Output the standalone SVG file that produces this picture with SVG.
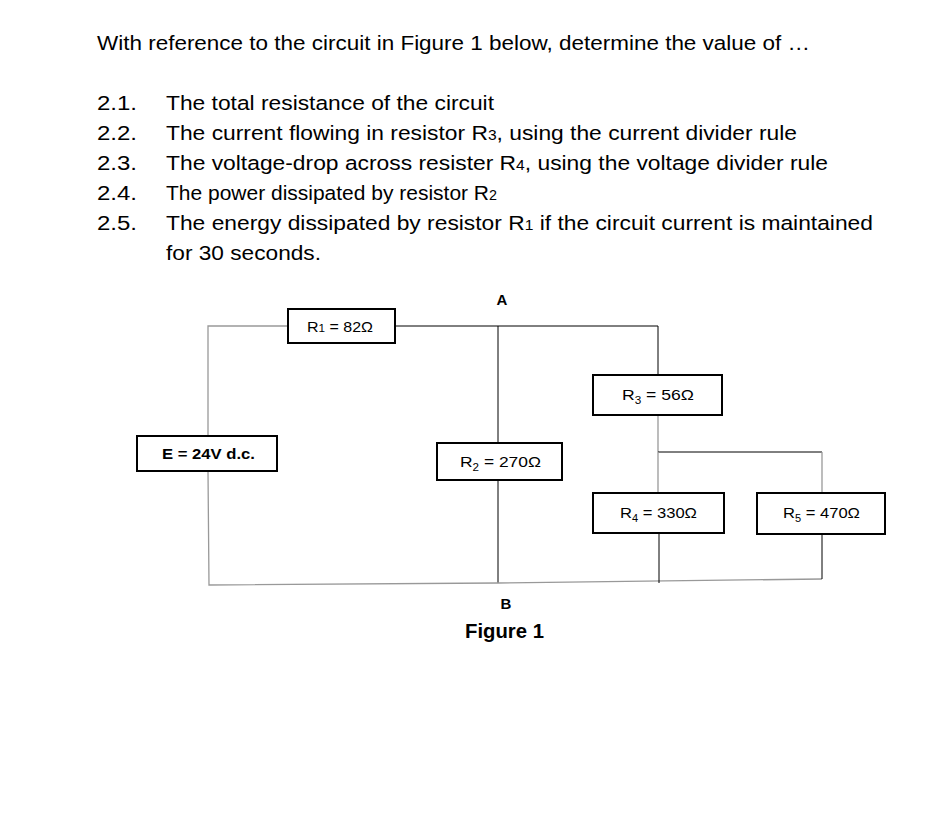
<svg xmlns="http://www.w3.org/2000/svg" width="935" height="820" viewBox="0 0 935 820">
<style>
text{font-family:"Liberation Sans",Arial,sans-serif;fill:#000}
.q{font-size:20.5px}
.l{font-size:15px}
.b{font-weight:bold}
.box{fill:#fff;stroke:#000;stroke-width:2}
.w{fill:none;stroke:#000;stroke-width:1}
.g{fill:none;stroke:#999;stroke-width:1.3}
</style>
<rect width="935" height="820" fill="#fff"/>
<text class="q" x="97" y="50" textLength="713" lengthAdjust="spacingAndGlyphs">With reference to the circuit in Figure 1 below, determine the value of …</text>
<text class="q" x="97" y="110" textLength="40" lengthAdjust="spacingAndGlyphs">2.1.</text><text class="q" x="166" y="110" textLength="328" lengthAdjust="spacingAndGlyphs">The total resistance of the circuit</text>
<text class="q" x="97" y="140" textLength="40" lengthAdjust="spacingAndGlyphs">2.2.</text><text class="q" x="166" y="140" textLength="631" lengthAdjust="spacingAndGlyphs">The current flowing in resistor R<tspan font-size="14">3</tspan>, using the current divider rule</text>
<text class="q" x="97" y="170" textLength="40" lengthAdjust="spacingAndGlyphs">2.3.</text><text class="q" x="166" y="170" textLength="662" lengthAdjust="spacingAndGlyphs">The voltage-drop across resister R<tspan font-size="14">4</tspan>, using the voltage divider rule</text>
<text class="q" x="97" y="200" textLength="40" lengthAdjust="spacingAndGlyphs">2.4.</text><text class="q" x="166" y="200" textLength="331" lengthAdjust="spacingAndGlyphs">The power dissipated by resistor R<tspan font-size="14">2</tspan></text>
<text class="q" x="97" y="230" textLength="40" lengthAdjust="spacingAndGlyphs">2.5.</text><text class="q" x="166" y="230" textLength="707" lengthAdjust="spacingAndGlyphs">The energy dissipated by resistor R<tspan font-size="14">1</tspan> if the circuit current is maintained</text>
<text class="q" x="166" y="260" textLength="155" lengthAdjust="spacingAndGlyphs">for 30 seconds.</text>
<g id="connectors">
<polyline class="g" points="288,326 208,326 208,436"/>
<polyline class="w" points="395,326 658,326 658,375"/>
<line class="w" x1="498" y1="326" x2="498" y2="443"/>
<line class="w" x1="498" y1="480" x2="498" y2="583"/>
<polyline class="g" points="208,471 209,585 498,583 822,579"/>
<line class="g" x1="658" y1="415" x2="658" y2="452"/>
<line class="w" x1="658" y1="452" x2="822" y2="452"/>
<line class="g" x1="658" y1="452" x2="658" y2="493"/>
<line class="g" x1="822" y1="452" x2="822" y2="493"/>
<line class="w" x1="659" y1="533" x2="659" y2="583"/>
<line class="w" x1="822" y1="534" x2="822" y2="579"/>
</g>
<g id="R1"><rect class="box" x="288" y="309" width="107" height="34"/><text class="l" x="307" y="332" textLength="66" lengthAdjust="spacingAndGlyphs">R<tspan font-size="11">1</tspan> = 82Ω</text></g>
<g id="E"><rect class="box" x="137" y="436" width="140" height="35"/><text class="l b" x="162" y="459" textLength="93" lengthAdjust="spacingAndGlyphs">E = 24V d.c.</text></g>
<g id="R2"><rect class="box" x="437" y="443" width="125" height="37"/><text class="l" x="460" y="467" textLength="81" lengthAdjust="spacingAndGlyphs">R<tspan font-size="10" dy="4">2</tspan><tspan dy="-4"> = 270Ω</tspan></text></g>
<g id="R3"><rect class="box" x="593" y="375" width="129" height="40"/><text class="l" x="622" y="400" textLength="72" lengthAdjust="spacingAndGlyphs">R<tspan font-size="10" dy="4">3</tspan><tspan dy="-4"> = 56Ω</tspan></text></g>
<g id="R4"><rect class="box" x="593" y="493" width="131" height="40"/><text class="l" x="620" y="518" textLength="77" lengthAdjust="spacingAndGlyphs">R<tspan font-size="10" dy="4">4</tspan><tspan dy="-4"> = 330Ω</tspan></text></g>
<g id="R5"><rect class="box" x="757" y="493" width="128" height="41"/><text class="l" x="783" y="518" textLength="77" lengthAdjust="spacingAndGlyphs">R<tspan font-size="10" dy="4">5</tspan><tspan dy="-4"> = 470Ω</tspan></text></g>
<text class="l b" x="502" y="305" text-anchor="middle">A</text>
<text class="l b" x="506" y="609" text-anchor="middle">B</text>
<text class="b" x="465" y="638" font-size="19.5" textLength="79" lengthAdjust="spacingAndGlyphs">Figure 1</text>
</svg>
